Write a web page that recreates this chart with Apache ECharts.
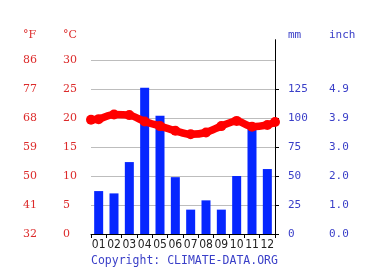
<!DOCTYPE html>
<html>
<head>
<meta charset="utf-8">
<script src="https://cdn.jsdelivr.net/npm/echarts@6/dist/echarts.min.js"></script>
<style>
html,body{margin:0;padding:0;background:#fff;}
#c{width:365px;height:273px;}
</style>
</head>
<body>
<div id="c"></div>
<script>
// ---- data ----
const months = ['01','02','03','04','05','06','07','08','09','10','11','12'];
const precipMm = [37, 35, 62, 126, 102, 49, 21, 29, 21, 50, 92, 56];
const tempC = [19.8, 20.6, 20.5, 19.4, 18.6, 17.8, 17.2, 17.5, 18.6, 19.5, 18.5, 18.8];
const tempStartC = 19.7;
const tempEndC = 19.3;
const tempTicksC = [0, 5, 10, 15, 20, 25, 30];
const precipTicksMm = [0, 25, 50, 75, 100, 125];

// ---- build ----
const lineData = [[0, tempStartC]]
  .concat(tempC.map((v, i) => [i + 0.5, v]))
  .concat([[12, tempEndC]]);

const RED = '#dc2a2a';
const BLUE = '#3a3fc8';
const serif = 'DejaVu Serif';
const mono = 'DejaVu Sans Mono';

const chart = echarts.init(document.getElementById('c'), null, {renderer: 'canvas'});
chart.setOption({
  animation: false,
  grid: {left: 91, right: 90, top: 39.7, bottom: 39, containLabel: false},
  xAxis: [
    {
      type: 'category', data: months, boundaryGap: true,
      axisLine: {show: true, lineStyle: {color: '#000', width: 1}},
      axisTick: {show: true, length: 4, lineStyle: {color: '#000'}},
      axisLabel: {color: '#222', fontFamily: '"DejaVu Sans Condensed", "DejaVu Sans"', fontSize: 12, margin: 5, interval: 0},
      splitLine: {show: false}
    },
    {
      type: 'value', min: 0, max: 12, show: false
    }
  ],
  yAxis: [
    { // °C
      type: 'value', min: 0, max: 33.5, interval: 5, position: 'left',
      axisLine: {show: false}, axisTick: {show: false},
      axisLabel: {customValues: tempTicksC, color: RED, fontFamily: serif, fontSize: 11, align: 'left', margin: 28},
      splitLine: {show: true, showMinLine: false, showMaxLine: false, lineStyle: {color: '#bdbdbd', width: 1}}
    },
    { // °F
      type: 'value', min: 0, max: 33.5, interval: 5, position: 'left',
      axisLine: {show: false}, axisTick: {show: false}, splitLine: {show: false},
      axisLabel: {customValues: tempTicksC, color: RED, fontFamily: serif, fontSize: 11, align: 'left', margin: 68,
        formatter: v => String(Math.round(v * 1.8 + 32))}
    },
    { // mm
      type: 'value', min: 0, max: 167.5, interval: 25, position: 'right',
      axisLine: {show: true, lineStyle: {color: '#000', width: 1}},
      axisTick: {show: true, customValues: precipTicksMm, length: 4, lineStyle: {color: '#000'}},
      axisLabel: {customValues: precipTicksMm, color: BLUE, fontFamily: mono, fontSize: 11, align: 'left', margin: 13},
      splitLine: {show: false}
    },
    { // inch
      type: 'value', min: 0, max: 167.5, interval: 25, position: 'right',
      axisLine: {show: false}, axisTick: {show: false}, splitLine: {show: false},
      axisLabel: {customValues: precipTicksMm, color: BLUE, fontFamily: mono, fontSize: 11, align: 'left', margin: 54,
        formatter: v => (v / 25.4).toFixed(1)}
    }
  ],
  series: [
    {
      type: 'bar', data: precipMm, xAxisIndex: 0, yAxisIndex: 2,
      barWidth: 9, itemStyle: {color: '#0626ff'}, z: 2
    },
    {
      type: 'line', data: lineData, xAxisIndex: 1, yAxisIndex: 0,
      smooth: 0.3, symbol: 'circle', symbolSize: 10, showSymbol: true,
      lineStyle: {color: '#ff0000', width: 7.5, cap: 'round', join: 'round'},
      itemStyle: {color: '#ff0000'}, z: 3
    }
  ],
  graphic: [
    {type: 'text', left: 23, top: 30, style: {text: '°F', fill: RED, font: '11px "DejaVu Serif"'}},
    {type: 'text', left: 63, top: 30, style: {text: '°C', fill: RED, font: '11px "DejaVu Serif"'}},
    {type: 'text', left: 288, top: 30, style: {text: 'mm', fill: BLUE, font: '11px "DejaVu Sans Mono"'}},
    {type: 'text', left: 329, top: 30, style: {text: 'inch', fill: BLUE, font: '11px "DejaVu Sans Mono"'}},
    {type: 'text', left: 91, top: 255, style: {text: 'Copyright: CLIMATE-DATA.ORG', fill: BLUE, font: '11.5px "DejaVu Sans Mono"'}}
  ]
});
</script>
</body>
</html>
